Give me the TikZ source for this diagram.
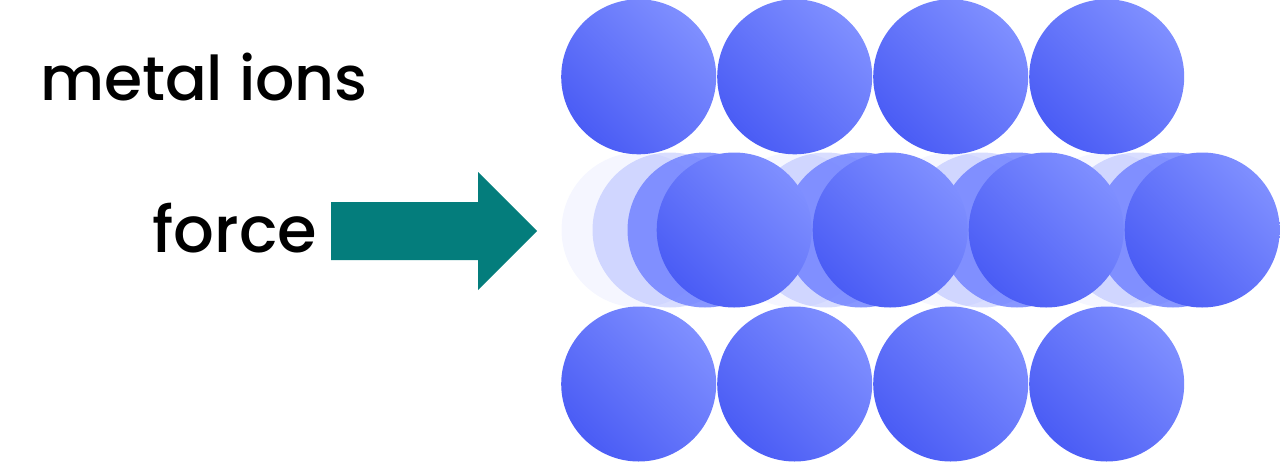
\documentclass[tikz,border=0pt]{standalone}
\usepackage{fontspec}
\setmainfont{Poppins Medium}
\definecolor{ionlow}{HTML}{4A5CF5}
\definecolor{ionhigh}{HTML}{7F8FFF}
\definecolor{ghost}{HTML}{6E80FF}
\definecolor{forcecol}{HTML}{047D7C}
\tikzset{
  ion/.style={circle,minimum size=155pt,inner sep=0pt,outer sep=0pt,shading=axis,
    bottom color=ionlow,top color=ionhigh,shading angle=-45},
  ghostion/.style={circle,minimum size=155pt,inner sep=0pt,outer sep=0pt,fill=ghost},
  label/.style={anchor=base west,inner sep=0pt,outer sep=0pt,text=black}
}
\begin{document}
\begin{tikzpicture}[x=1pt,y=-1pt]
\useasboundingbox (0,0) rectangle (1280,461);
\foreach \c [count=\i] in {638.7,794.7,950.7,1106.7}{
  \node[ion] (top\i) at (\c,76.8) {};
  \node[ion] (bot\i) at (\c,384) {};
}
\foreach \c [count=\i] in {0,156,312,468}{
  \node[ghostion,opacity=.07] (ga\i) at (639+\c,230) {};
  \node[ghostion,opacity=.27] (gb\i) at (670+\c,230) {};
  \node[ghostion,opacity=.82] (gc\i) at (705+\c,230) {};
}
\foreach \c [count=\i] in {734.2,890.2,1046.2,1202.2}{
  \node[ion] (mid\i) at (\c,230) {};
}
\node[label,font=\fontsize{61.7}{62}\selectfont] (metal) at (40,100) {metal ions};
\node[label,font=\fontsize{64}{64}\selectfont] (force) at (152.5,252) {force};
\fill[forcecol] (331,202) -- (478,202) -- (478,172) -- (537,231) -- (478,290) -- (478,260) -- (331,260) -- cycle;
\end{tikzpicture}
\end{document}
